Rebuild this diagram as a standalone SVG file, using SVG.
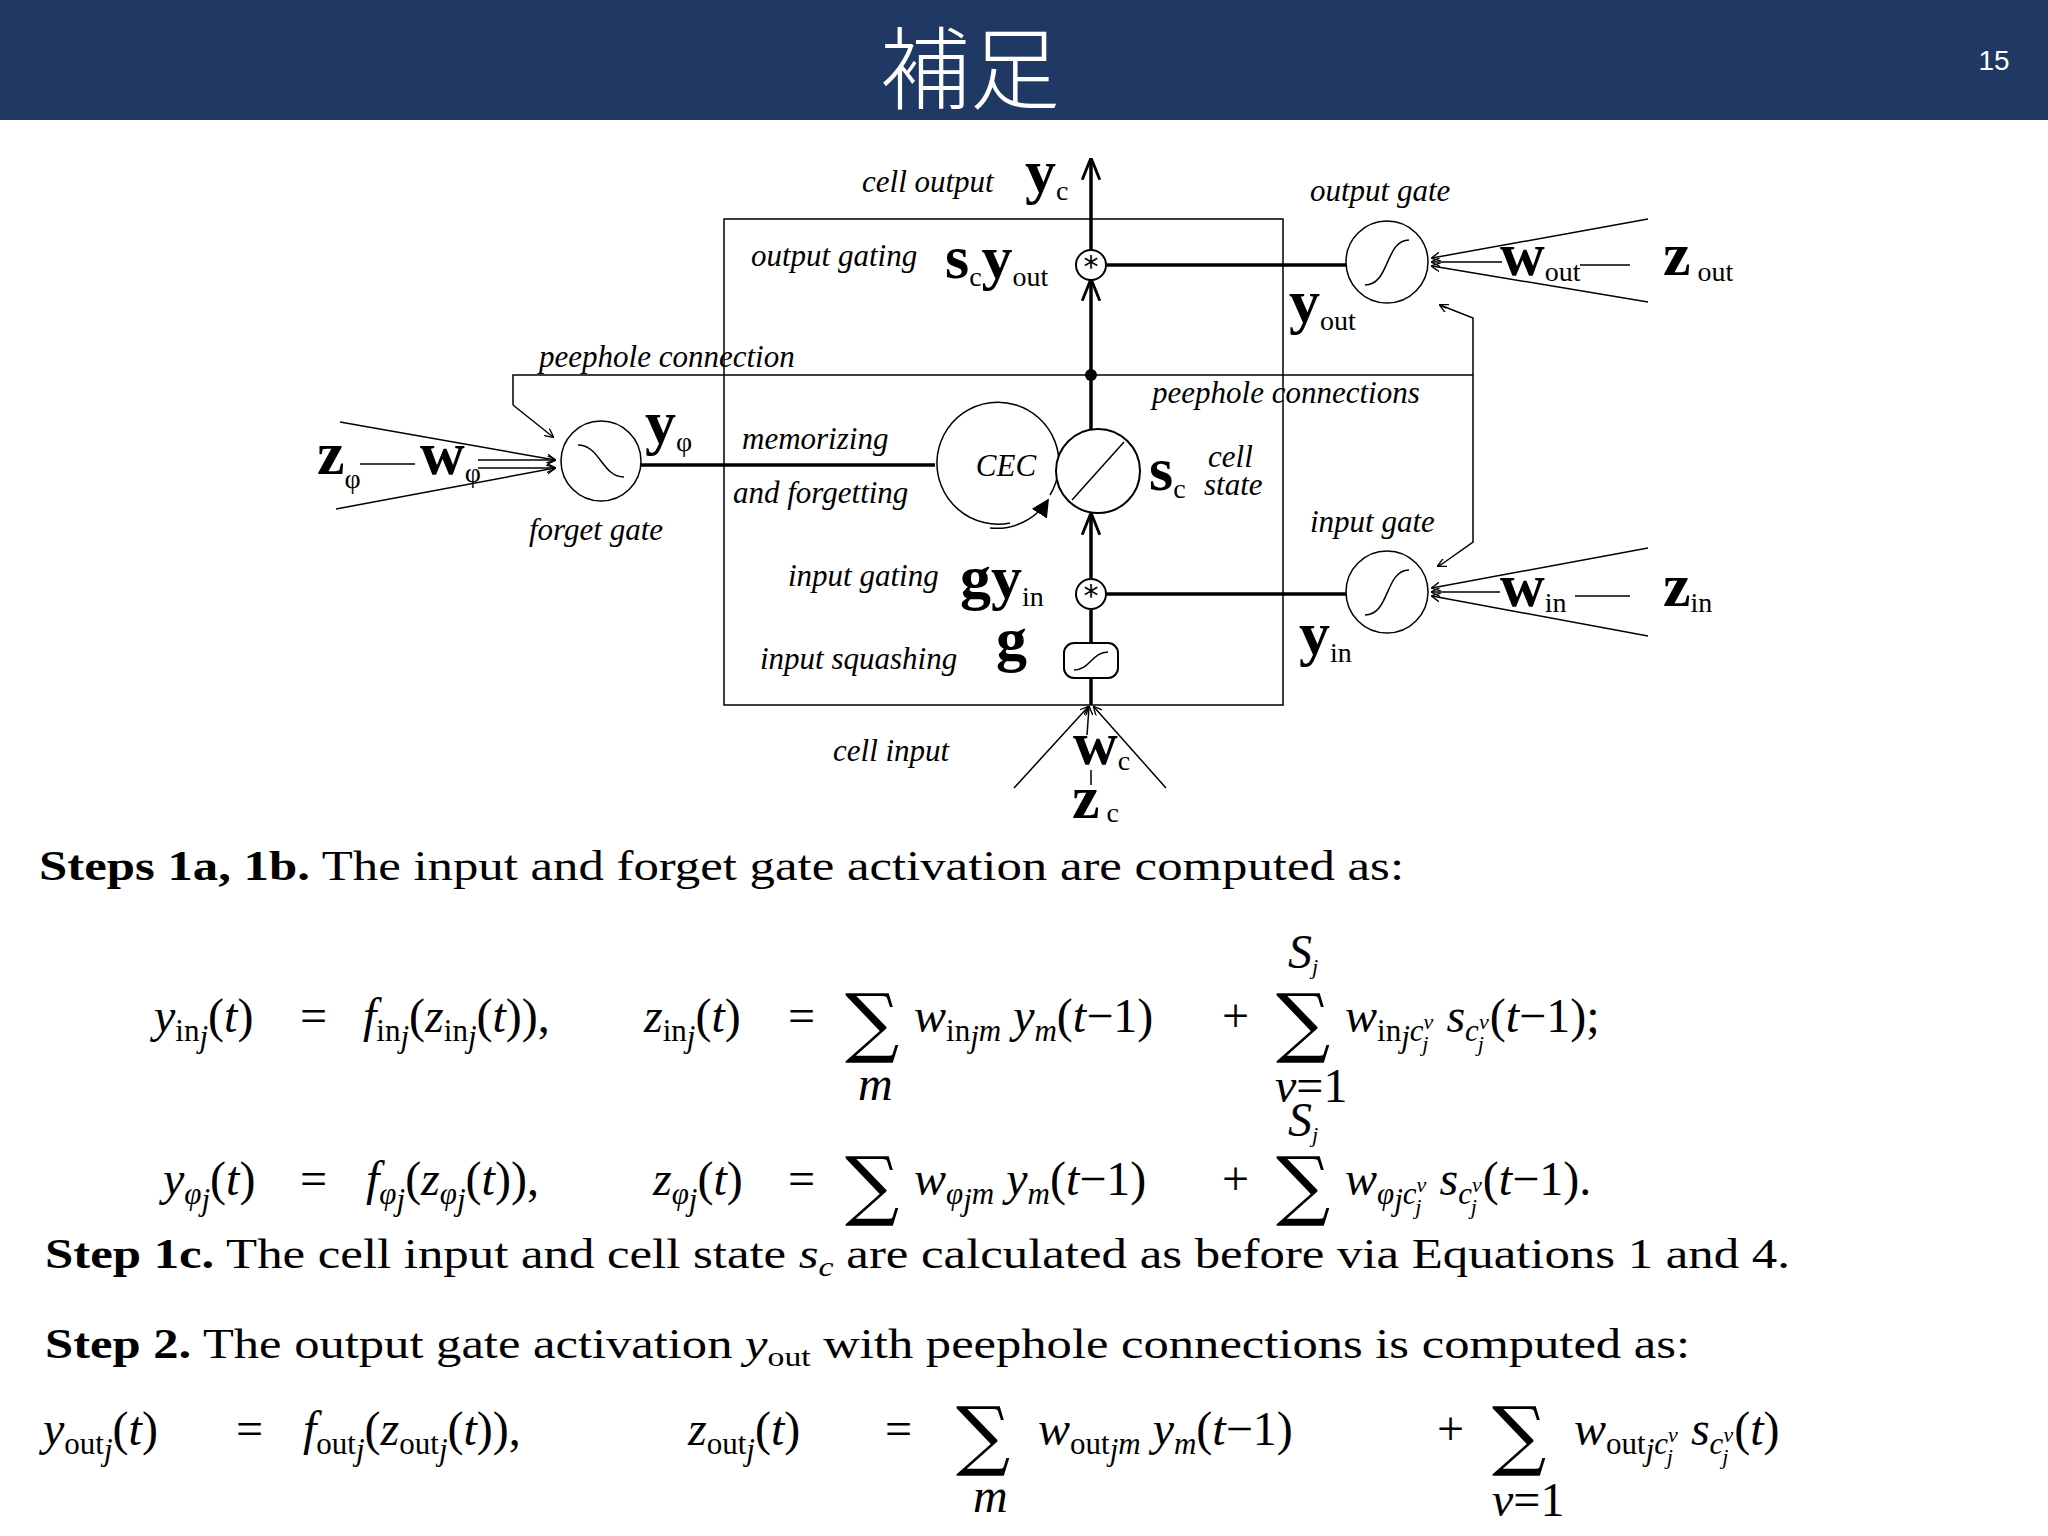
<svg xmlns="http://www.w3.org/2000/svg" width="2048" height="1536" viewBox="0 0 2048 1536">
<defs>
<marker id="ah" viewBox="0 0 10 10" refX="9" refY="5" markerWidth="9" markerHeight="9" orient="auto" markerUnits="userSpaceOnUse"><path d="M0,0 L10,5 L0,10" fill="none" stroke="#000" stroke-width="1.5"/></marker>
<marker id="ab" viewBox="0 0 10 10" refX="9" refY="5" markerWidth="22" markerHeight="22" orient="auto" markerUnits="userSpaceOnUse"><path d="M0,1 L10,5 L0,9" fill="none" stroke="#000" stroke-width="1.3"/></marker>
<marker id="af" viewBox="0 0 10 10" refX="9" refY="5" markerWidth="18" markerHeight="18" orient="auto" markerUnits="userSpaceOnUse"><path d="M0,0 L10,5 L0,10 z" fill="#000"/></marker>
</defs>
<style>
.lb{font-family:"Liberation Serif",serif;font-style:italic;font-size:31px}
.big{font-family:"Liberation Serif",serif;font-weight:bold;font-size:62px}
.sb{font-family:"Liberation Serif",serif;font-size:28px;font-weight:normal}
.eq{font-family:"Liberation Serif",serif;font-style:italic;font-size:48px}
.tx{font-family:"Liberation Serif",serif;font-size:42px}
.op{font-family:"Liberation Serif",serif;font-size:48px}
.bd{font-weight:bold}
.s{font-size:31px;font-style:normal}
.si{font-size:31px}
.sup{font-size:22px}
.sum{font-family:"DejaVu Serif",serif;font-size:76px;font-style:normal}
.ln{stroke:#000;stroke-width:3.5;fill:none}
.th{stroke:#000;stroke-width:1.5;fill:none}
</style>
<rect width="2048" height="1536" fill="#fff"/>
<g id="header"><rect x="0" y="0" width="2048" height="120" fill="#1f3864"/>
<text x="970" y="102" text-anchor="middle" font-family="Noto Sans CJK JP,sans-serif" font-size="90" fill="#fff" font-weight="300">補足</text>
<text x="1994" y="70" text-anchor="middle" font-family="Liberation Sans,sans-serif" font-size="28" fill="#fff">15</text></g>

<g id="connectors">
<rect x="724" y="219" width="559" height="486" class="th"/>
<line x1="1091" y1="705" x2="1091" y2="678" class="ln"/>
<line x1="1091" y1="643" x2="1091" y2="610" class="ln"/>
<line x1="1091" y1="578" x2="1091" y2="515" class="ln" marker-end="url(#ab)"/>
<line x1="1091" y1="429" x2="1091" y2="281" class="ln" marker-end="url(#ab)"/>
<line x1="1091" y1="249" x2="1091" y2="160" class="ln" marker-end="url(#ab)"/>
<circle cx="1091" cy="375" r="6" fill="#000"/>
<line x1="1107" y1="265" x2="1347" y2="265" class="ln"/>
<line x1="1107" y1="594" x2="1347" y2="594" class="ln"/>
<line x1="641" y1="465" x2="935" y2="465" class="ln"/>
<polyline points="513,405 513,375 1473,375" class="th" stroke-width="2.5"/>
<line x1="513" y1="405" x2="553" y2="437" class="th" marker-end="url(#ah)"/>
<polyline points="1440,305 1473,318 1473,542 1442,564" class="th" stroke-width="2.5"/>
<line x1="1446" y1="308" x2="1440" y2="305" class="th" marker-end="url(#ah)"/>
<line x1="1442" y1="564" x2="1438" y2="566" class="th" marker-end="url(#ah)"/>
<line x1="1648" y1="219" x2="1432" y2="258" class="th" marker-end="url(#ah)"/>
<line x1="1648" y1="302" x2="1432" y2="266" class="th" marker-end="url(#ah)"/>
<line x1="1502" y1="262" x2="1432" y2="262" class="th" marker-end="url(#ah)"/>
<line x1="1580" y1="265" x2="1630" y2="265" class="th"/>
<line x1="1648" y1="548" x2="1432" y2="588" class="th" marker-end="url(#ah)"/>
<line x1="1648" y1="636" x2="1432" y2="596" class="th" marker-end="url(#ah)"/>
<line x1="1500" y1="592" x2="1432" y2="592" class="th" marker-end="url(#ah)"/>
<line x1="1575" y1="596" x2="1630" y2="596" class="th"/>
<line x1="340" y1="422" x2="555" y2="460" class="th" marker-end="url(#ah)"/>
<line x1="336" y1="509" x2="555" y2="468" class="th" marker-end="url(#ah)"/>
<line x1="360" y1="464" x2="415" y2="464" class="th"/>
<line x1="478" y1="460" x2="555" y2="460" class="th" marker-end="url(#ah)"/>
<line x1="478" y1="468" x2="555" y2="468" class="th" marker-end="url(#ah)"/>
<line x1="1014" y1="788" x2="1088" y2="707" class="th" marker-end="url(#ah)"/>
<line x1="1166" y1="788" x2="1094" y2="707" class="th" marker-end="url(#ah)"/>
<line x1="1087" y1="735" x2="1089" y2="707" class="th" marker-end="url(#ah)"/>
<line x1="1091" y1="770" x2="1091" y2="785" class="th"/>
<path d="M1010,523 A61,61 0 1 1 1050,495" class="th" stroke-width="3"/>
<path d="M990,528 A61,61 0 0 0 1048,500" class="th" stroke-width="3" marker-end="url(#af)"/>
</g>

<g id="cec"><text x="1006" y="476" class="lb" text-anchor="middle">CEC</text></g>
<g id="cellstate"><circle cx="1098" cy="471" r="42" fill="#fff" stroke="#000" stroke-width="2"/><line x1="1072" y1="500" x2="1124" y2="442" class="th" stroke-width="2"/></g>
<g id="mult_out"><circle cx="1091" cy="265" r="15" fill="#fff" stroke="#000" stroke-width="2"/><text x="1091" y="277" text-anchor="middle" font-family="DejaVu Sans,sans-serif" font-size="30">*</text></g>
<g id="mult_in"><circle cx="1091" cy="594" r="15" fill="#fff" stroke="#000" stroke-width="2"/><text x="1091" y="606" text-anchor="middle" font-family="DejaVu Sans,sans-serif" font-size="30">*</text></g>
<g id="squash"><rect x="1064" y="643" width="54" height="35" rx="10" fill="#fff" stroke="#000" stroke-width="2"/><path d="M1074,670 C1090,670 1092,652 1108,652" class="th" stroke-width="2"/></g>
<g id="outgate"><circle cx="1387" cy="262" r="41" fill="#fff" stroke="#000" stroke-width="1.5"/><path d="M1365,285 C1390,285 1385,240 1409,240" class="th"/></g>
<g id="ingate"><circle cx="1387" cy="592" r="41" fill="#fff" stroke="#000" stroke-width="1.5"/><path d="M1365,615 C1390,615 1385,570 1409,570" class="th"/></g>
<g id="forgetgate"><circle cx="601" cy="461" r="40" fill="#fff" stroke="#000" stroke-width="1.5"/><path d="M578,445 C600,445 602,477 624,477" class="th"/></g>

<g id="labels">
<text x="862" y="192" class="lb">cell output</text>
<text x="1025" y="192" class="big">y<tspan class="sb" dy="8">c</tspan></text>
<text x="1310" y="201" class="lb">output gate</text>
<text x="751" y="266" class="lb">output gating</text>
<text x="945" y="278" class="big">s<tspan class="sb" dy="8">c</tspan><tspan dy="-8">y</tspan><tspan class="sb" dy="8">out</tspan></text>
<text x="1289" y="322" class="big">y<tspan class="sb" dy="8">out</tspan></text>
<text x="539" y="367" class="lb">peephole connection</text>
<text x="1152" y="403" class="lb">peephole connections</text>
<text x="645" y="443" class="big">y<tspan class="sb" dy="8">φ</tspan></text>
<text x="742" y="449" class="lb">memorizing</text>
<text x="733" y="503" class="lb">and forgetting</text>
<text x="1149" y="490" class="big">s<tspan class="sb" dy="8">c</tspan></text>
<text x="1208" y="467" class="lb">cell</text>
<text x="1204" y="495" class="lb">state</text>
<text x="529" y="540" class="lb">forget gate</text>
<text x="317" y="474" class="big" font-size="44" font-weight="normal">z<tspan class="sb" dy="14">φ</tspan></text>
<text x="420" y="474" class="big" font-size="48">w<tspan class="sb" dy="8">φ</tspan></text>
<text x="1310" y="532" class="lb">input gate</text>
<text x="788" y="586" class="lb">input gating</text>
<text x="960" y="598" class="big">gy<tspan class="sb" dy="8">in</tspan></text>
<text x="1299" y="654" class="big">y<tspan class="sb" dy="8">in</tspan></text>
<text x="760" y="669" class="lb">input squashing</text>
<text x="996" y="660" class="big">g</text>
<text x="833" y="761" class="lb">cell input</text>
<text x="1073" y="764" class="big" font-size="44">w<tspan class="sb" dy="6">c</tspan></text>
<text x="1072" y="818" class="big" font-size="40" font-weight="normal">z<tspan class="sb" dy="4"> c</tspan></text>
<text x="1500" y="275" class="big" font-size="44">w<tspan class="sb" dy="6">out</tspan></text>
<text x="1663" y="275" class="big" font-size="44" font-weight="normal">z<tspan class="sb" dy="6"> out</tspan></text>
<text x="1500" y="606" class="big" font-size="44">w<tspan class="sb" dy="6">in</tspan></text>
<text x="1663" y="606" class="big" font-size="44" font-weight="normal">z<tspan class="sb" dy="6">in</tspan></text>
</g>

<g id="text">
<text x="39" y="880" class="tx" textLength="1365" lengthAdjust="spacingAndGlyphs"><tspan class="bd">Steps 1a, 1b.</tspan> The input and forget gate activation are computed as:</text>
<text x="154" y="1032" class="eq">y<tspan class="s" dy="9">in</tspan><tspan class="si" dy="6">j</tspan><tspan dy="-15" font-style="normal">(</tspan>t<tspan font-style="normal">)</tspan></text>
<text x="300" y="1032" class="op">=</text>
<text x="363" y="1032" class="eq">f<tspan class="s" dy="9">in</tspan><tspan class="si" dy="6">j</tspan><tspan dy="-15" font-style="normal">(</tspan>z<tspan class="s" dy="9">in</tspan><tspan class="si" dy="6">j</tspan><tspan dy="-15" font-style="normal">(</tspan>t<tspan font-style="normal">)),</tspan></text>
<text x="644" y="1032" class="eq">z<tspan class="s" dy="9">in</tspan><tspan class="si" dy="6">j</tspan><tspan dy="-15" font-style="normal">(</tspan>t<tspan font-style="normal">)</tspan></text>
<text x="788" y="1032" class="op">=</text>
<text x="845" y="1048" class="sum">∑</text>
<text x="858" y="1100" class="eq" font-size="32">m</text>
<text x="914" y="1032" class="eq">w<tspan class="s" dy="9">in</tspan><tspan class="si" dy="6">j</tspan><tspan class="si" dy="-6">m</tspan><tspan dy="-9"> y</tspan><tspan class="si" dy="9">m</tspan><tspan dy="-9" font-style="normal">(</tspan>t<tspan font-style="normal">−1)</tspan></text>
<text x="1222" y="1032" class="op">+</text>
<text x="1276" y="1048" class="sum">∑</text>
<text x="1288" y="968" class="eq" font-size="32">S<tspan class="sup" dy="6">j</tspan></text>
<text x="1275" y="1102" class="eq" font-size="30">v<tspan font-style="normal">=1</tspan></text>
<text x="1345" y="1032" class="eq">w<tspan class="s" dy="9">in</tspan><tspan class="si" dy="6">j</tspan><tspan class="si" dy="-6">c</tspan><tspan class="sup" dy="-12">v</tspan><tspan class="sup" dx="-11" dy="22">j</tspan><tspan dx="6" dy="-19"> s</tspan><tspan class="si" dy="9">c</tspan><tspan class="sup" dy="-12">v</tspan><tspan class="sup" dx="-11" dy="22">j</tspan><tspan dx="6" dy="-19" font-style="normal">(</tspan>t<tspan font-style="normal">−1);</tspan></text>
<text x="163" y="1195" class="eq">y<tspan class="si" dy="9">φ</tspan><tspan class="si" dy="6">j</tspan><tspan dy="-15" font-style="normal">(</tspan>t<tspan font-style="normal">)</tspan></text>
<text x="300" y="1195" class="op">=</text>
<text x="366" y="1195" class="eq">f<tspan class="si" dy="9">φ</tspan><tspan class="si" dy="6">j</tspan><tspan dy="-15" font-style="normal">(</tspan>z<tspan class="si" dy="9">φ</tspan><tspan class="si" dy="6">j</tspan><tspan dy="-15" font-style="normal">(</tspan>t<tspan font-style="normal">)),</tspan></text>
<text x="653" y="1195" class="eq">z<tspan class="si" dy="9">φ</tspan><tspan class="si" dy="6">j</tspan><tspan dy="-15" font-style="normal">(</tspan>t<tspan font-style="normal">)</tspan></text>
<text x="788" y="1195" class="op">=</text>
<text x="845" y="1211" class="sum">∑</text>
<text x="914" y="1195" class="eq">w<tspan class="si" dy="9">φ</tspan><tspan class="si" dy="6">j</tspan><tspan class="si" dy="-6">m</tspan><tspan dy="-9"> y</tspan><tspan class="si" dy="9">m</tspan><tspan dy="-9" font-style="normal">(</tspan>t<tspan font-style="normal">−1)</tspan></text>
<text x="1222" y="1195" class="op">+</text>
<text x="1276" y="1211" class="sum">∑</text>
<text x="1288" y="1136" class="eq" font-size="32">S<tspan class="sup" dy="6">j</tspan></text>
<text x="1345" y="1195" class="eq">w<tspan class="si" dy="9">φ</tspan><tspan class="si" dy="6">j</tspan><tspan class="si" dy="-6">c</tspan><tspan class="sup" dy="-12">v</tspan><tspan class="sup" dx="-11" dy="22">j</tspan><tspan dx="6" dy="-19"> s</tspan><tspan class="si" dy="9">c</tspan><tspan class="sup" dy="-12">v</tspan><tspan class="sup" dx="-11" dy="22">j</tspan><tspan dx="6" dy="-19" font-style="normal">(</tspan>t<tspan font-style="normal">−1).</tspan></text>
<text x="45" y="1268" class="tx" textLength="1745" lengthAdjust="spacingAndGlyphs"><tspan class="bd">Step 1c.</tspan> The cell input and cell state <tspan font-style="italic">s</tspan><tspan font-size="28" font-style="italic" dy="8">c</tspan><tspan dy="-8"> are calculated as before via Equations 1 and 4.</tspan></text>
<text x="45" y="1358" class="tx" textLength="1645" lengthAdjust="spacingAndGlyphs"><tspan class="bd">Step 2.</tspan> The output gate activation <tspan font-style="italic">y</tspan><tspan font-size="28" dy="8">out</tspan><tspan dy="-8"> with peephole connections is computed as:</tspan></text>
<text x="43" y="1445" class="eq">y<tspan class="s" dy="9">out</tspan><tspan class="si" dy="6">j</tspan><tspan dy="-15" font-style="normal">(</tspan>t<tspan font-style="normal">)</tspan></text>
<text x="236" y="1445" class="op">=</text>
<text x="303" y="1445" class="eq">f<tspan class="s" dy="9">out</tspan><tspan class="si" dy="6">j</tspan><tspan dy="-15" font-style="normal">(</tspan>z<tspan class="s" dy="9">out</tspan><tspan class="si" dy="6">j</tspan><tspan dy="-15" font-style="normal">(</tspan>t<tspan font-style="normal">)),</tspan></text>
<text x="688" y="1445" class="eq">z<tspan class="s" dy="9">out</tspan><tspan class="si" dy="6">j</tspan><tspan dy="-15" font-style="normal">(</tspan>t<tspan font-style="normal">)</tspan></text>
<text x="885" y="1445" class="op">=</text>
<text x="956" y="1461" class="sum">∑</text>
<text x="973" y="1512" class="eq" font-size="32">m</text>
<text x="1038" y="1445" class="eq">w<tspan class="s" dy="9">out</tspan><tspan class="si" dy="6">j</tspan><tspan class="si" dy="-6">m</tspan><tspan dy="-9"> y</tspan><tspan class="si" dy="9">m</tspan><tspan dy="-9" font-style="normal">(</tspan>t<tspan font-style="normal">−1)</tspan></text>
<text x="1437" y="1445" class="op">+</text>
<text x="1492" y="1461" class="sum">∑</text>
<text x="1492" y="1516" class="eq" font-size="30">v<tspan font-style="normal">=1</tspan></text>
<text x="1574" y="1445" class="eq">w<tspan class="s" dy="9">out</tspan><tspan class="si" dy="6">j</tspan><tspan class="si" dy="-6">c</tspan><tspan class="sup" dy="-12">v</tspan><tspan class="sup" dx="-11" dy="22">j</tspan><tspan dx="6" dy="-19"> s</tspan><tspan class="si" dy="9">c</tspan><tspan class="sup" dy="-12">v</tspan><tspan class="sup" dx="-11" dy="22">j</tspan><tspan dx="6" dy="-19" font-style="normal">(</tspan>t<tspan font-style="normal">)</tspan></text>
</g>
</svg>
